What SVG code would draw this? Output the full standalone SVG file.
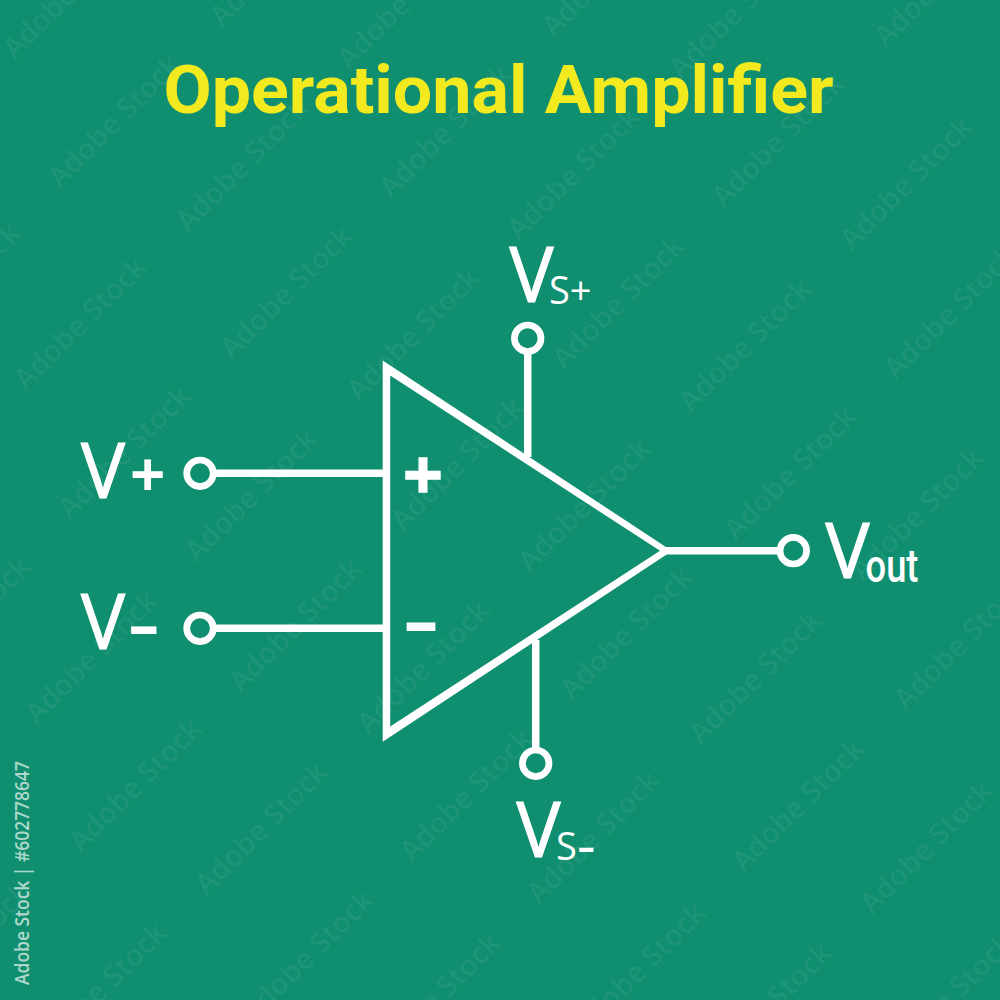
<svg xmlns="http://www.w3.org/2000/svg" width="1000" height="1000" viewBox="0 0 1000 1000">
<style>
.wm{font-family:"Open Sans","Liberation Sans",sans-serif;font-weight:600;font-size:29px;fill:#fff;fill-opacity:.06;text-anchor:middle}
.lbl{font-family:"Open Sans","Liberation Sans",sans-serif;fill:#fff}
.v{font-size:76px;stroke:#fff;stroke-width:1.2}
.sub{font-size:38px}
.wire{fill:none;stroke:#fff;stroke-width:7.5}
.term{fill:none;stroke:#fff;stroke-width:6.7}
.side{font-family:"Open Sans","Liberation Sans",sans-serif;font-weight:600;font-size:20.5px;fill:#c4e2d8;fill-opacity:.9}
.title{font-family:Roboto,"Liberation Sans",sans-serif;font-weight:700;font-size:67.5px;fill:#f2ea1e}
</style>
<rect id="background" width="1000" height="1000" fill="#108e70"/>
<g id="watermarks" transform="translate(5 -2)">
<text class="wm" y="10" transform="translate(109 123) rotate(-45)">Adobe Stock</text>
<text class="wm" y="10" transform="translate(237 167) rotate(-45)">Adobe Stock</text>
<text class="wm" y="10" transform="translate(440 133) rotate(-45)">Adobe Stock</text>
<text class="wm" y="10" transform="translate(281 294) rotate(-45)">Adobe Stock</text>
<text class="wm" y="10" transform="translate(75 325) rotate(-45)">Adobe Stock</text>
<text class="wm" y="10" transform="translate(408 336) rotate(-45)">Adobe Stock</text>
<text class="wm" y="10" transform="translate(119 454) rotate(-45)">Adobe Stock</text>
<text class="wm" y="10" transform="translate(246 497) rotate(-45)">Adobe Stock</text>
<text class="wm" y="10" transform="translate(452 466) rotate(-45)">Adobe Stock</text>
<text class="wm" y="10" transform="translate(64 -6) rotate(-45)">Adobe Stock</text>
<text class="wm" y="10" transform="translate(271 -38) rotate(-45)">Adobe Stock</text>
<text class="wm" y="10" transform="translate(398 4) rotate(-45)">Adobe Stock</text>
<text class="wm" y="10" transform="translate(-51 291) rotate(-45)">Adobe Stock</text>
<text class="wm" y="10" transform="translate(603 -28) rotate(-45)">Adobe Stock</text>
<text class="wm" y="10" transform="translate(730 14) rotate(-45)">Adobe Stock</text>
<text class="wm" y="10" transform="translate(935 -18) rotate(-45)">Adobe Stock</text>
<text class="wm" y="10" transform="translate(568 175) rotate(-45)">Adobe Stock</text>
<text class="wm" y="10" transform="translate(773 142) rotate(-45)">Adobe Stock</text>
<text class="wm" y="10" transform="translate(901 185) rotate(-45)">Adobe Stock</text>
<text class="wm" y="10" transform="translate(613 304) rotate(-45)">Adobe Stock</text>
<text class="wm" y="10" transform="translate(740 347) rotate(-45)">Adobe Stock</text>
<text class="wm" y="10" transform="translate(945 314) rotate(-45)">Adobe Stock</text>
<text class="wm" y="10" transform="translate(579 507) rotate(-45)">Adobe Stock</text>
<text class="wm" y="10" transform="translate(785 475) rotate(-45)">Adobe Stock</text>
<text class="wm" y="10" transform="translate(912 516) rotate(-45)">Adobe Stock</text>
<text class="wm" y="10" transform="translate(-41 625) rotate(-45)">Adobe Stock</text>
<text class="wm" y="10" transform="translate(86 659) rotate(-45)">Adobe Stock</text>
<text class="wm" y="10" transform="translate(290 627) rotate(-45)">Adobe Stock</text>
<text class="wm" y="10" transform="translate(418 669) rotate(-45)">Adobe Stock</text>
<text class="wm" y="10" transform="translate(130 787) rotate(-45)">Adobe Stock</text>
<text class="wm" y="10" transform="translate(256 830) rotate(-45)">Adobe Stock</text>
<text class="wm" y="10" transform="translate(461 797) rotate(-45)">Adobe Stock</text>
<text class="wm" y="10" transform="translate(-41 951) rotate(-45)">Adobe Stock</text>
<text class="wm" y="10" transform="translate(95 991) rotate(-45)">Adobe Stock</text>
<text class="wm" y="10" transform="translate(302 958) rotate(-45)">Adobe Stock</text>
<text class="wm" y="10" transform="translate(429 1001) rotate(-45)">Adobe Stock</text>
<text class="wm" y="10" transform="translate(621 635) rotate(-45)">Adobe Stock</text>
<text class="wm" y="10" transform="translate(750 679) rotate(-45)">Adobe Stock</text>
<text class="wm" y="10" transform="translate(955 645) rotate(-45)">Adobe Stock</text>
<text class="wm" y="10" transform="translate(588 839) rotate(-45)">Adobe Stock</text>
<text class="wm" y="10" transform="translate(793 807) rotate(-45)">Adobe Stock</text>
<text class="wm" y="10" transform="translate(921 849) rotate(-45)">Adobe Stock</text>
<text class="wm" y="10" transform="translate(634 971) rotate(-45)">Adobe Stock</text>
<text class="wm" y="10" transform="translate(760 1011) rotate(-45)">Adobe Stock</text>
<text class="wm" y="10" transform="translate(942 1001) rotate(-45)">Adobe Stock</text>
</g>
<text class="side" transform="translate(29 985) rotate(-90)" textLength="224" lengthAdjust="spacingAndGlyphs">Adobe Stock | #602778647</text>
<text id="title" class="title" x="163.5" y="113.3" textLength="670" lengthAdjust="spacingAndGlyphs">Operational Amplifier</text>
<g id="connectors">
<path class="wire" d="M213 473.3H384"/>
<path class="wire" d="M213 628.3H384"/>
<path class="wire" d="M527.7 351V457"/>
<path class="wire" d="M535.7 640V750"/>
<path class="wire" d="M665 550.7H780"/>
</g>
<g id="opamp">
<path d="M382.7 360.5V741.7L672 551ZM390.2 375.5L660 550.8L390.2 726.5Z" fill="#fff" fill-rule="evenodd"/>
<text class="lbl" x="403" y="500" font-size="70" font-weight="700" stroke="#fff" stroke-width="1.5">+</text>
<text class="lbl" x="402" y="658" font-size="118">-</text>
</g>
<g id="v-plus">
<circle class="term" cx="200" cy="473.3" r="13.3"/>
<text class="lbl v" x="81" y="498.3" textLength="44" lengthAdjust="spacingAndGlyphs">V</text>
<text class="lbl" x="130" y="497" font-size="62" font-weight="700">+</text>
</g>
<g id="v-minus">
<circle class="term" cx="200" cy="628.3" r="13.3"/>
<text class="lbl v" x="81" y="648.8" textLength="44" lengthAdjust="spacingAndGlyphs">V</text>
<text class="lbl" x="127" y="658" font-size="104">-</text>
</g>
<g id="v-s-plus">
<circle class="term" cx="527.7" cy="338.3" r="13.3"/>
<text class="lbl v" x="509.5" y="301.7" textLength="44" lengthAdjust="spacingAndGlyphs">V</text>
<text class="lbl sub" x="549" y="303.5">S+</text>
</g>
<g id="v-s-minus">
<circle class="term" cx="535.7" cy="763.3" r="13.3"/>
<text class="lbl v" x="516.5" y="857" textLength="44" lengthAdjust="spacingAndGlyphs">V</text>
<text class="lbl sub" x="556" y="859.5">S</text>
<text class="lbl" x="577" y="866" font-size="58">-</text>
</g>
<g id="v-out">
<circle class="term" cx="793.3" cy="550.7" r="13.3"/>
<text class="lbl v" x="825.5" y="578.3" textLength="44" lengthAdjust="spacingAndGlyphs">V</text>
<text class="lbl" x="865.5" y="581.7" font-size="46" font-family="Roboto,sans-serif" style="font-family:Roboto,sans-serif;font-weight:500" textLength="53" lengthAdjust="spacingAndGlyphs">out</text>
</g>
</svg>
